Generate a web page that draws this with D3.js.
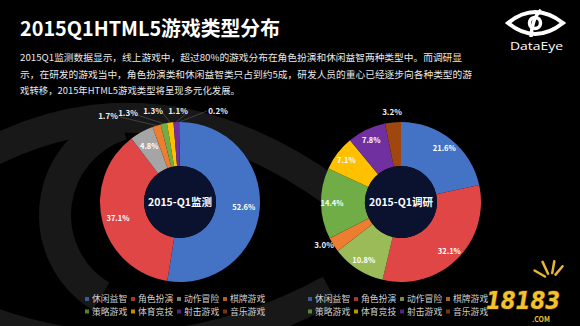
<!DOCTYPE html>
<html lang="zh">
<head>
<meta charset="UTF-8">
<title>2015Q1HTML5游戏类型分布</title>
<script src="https://d3js.org/d3.v7.min.js"></script>
<style>
    body { margin: 0; padding: 0; background: #000; }
    svg { display: block; font-family: "Noto Sans CJK SC", "Noto Sans", sans-serif; }
</style>
</head>
<body>
<div id="chart"></div>
<script>
    // categories (legend order, same for both donuts)
    const categories = ["休闲益智", "角色扮演", "动作冒险", "棋牌游戏", "策略游戏", "体育竞技", "射击游戏", "音乐游戏"];
    // percentages
    const monitorValues = [52.6, 37.1, 4.8, 1.7, 1.3, 1.3, 1.1, 0.2];
    const surveyValues = [21.6, 32.1, 10.8, 3.0, 14.4, 7.1, 7.8, 3.2];
    const chartTitles = ["2015-Q1监测", "2015-Q1调研"];

    const title = "2015Q1HTML5游戏类型分布";
    const bodyLines = [
        "2015Q1监测数据显示，线上游戏中，超过80%的游戏分布在角色扮演和休闲益智两种类型中。而调研显",
        "示，在研发的游戏当中，角色扮演类和休闲益智类只占到约5成，研发人员的重心已经逐步向各种类型的游",
        "戏转移，2015年HTML5游戏类型将呈现多元化发展。"
    ];

    const W = 580, H = 326;
    const leftColors = ["#4472c4", "#e04646", "#a5a5a5", "#ed7d31", "#70ad47", "#ffc000", "#7030a0", "#a0470f"];
    const rightColors = ["#4472c4", "#e04646", "#9bbb59", "#ed7d31", "#70ad47", "#ffc000", "#7030a0", "#a0470f"];

    const svg = d3.select("#chart").append("svg")
        .attr("width", W).attr("height", H);

    svg.append("rect").attr("width", W).attr("height", H).attr("fill", "#000");

    // faint big eye watermark in the background
    const wm = svg.append("g").attr("fill", "none").attr("stroke", "#181818");
    wm.append("path").attr("stroke-width", 30)
        .attr("d", "M-140,250 Q90,20 330,190");
    wm.append("path").attr("stroke-width", 30)
        .attr("d", "M-140,250 Q90,420 330,290");
    wm.append("path").attr("stroke-width", 32)
        .attr("transform", "translate(150,215)")
        .attr("d", d3.arc().innerRadius(95).outerRadius(95)({ startAngle: -2.6, endAngle: -0.3 }));

    // title + description
    svg.append("text").attr("x", 20).attr("y", 36)
        .attr("fill", "#fff").attr("font-size", 20).attr("font-weight", "bold")
        .attr("textLength", 260).attr("lengthAdjust", "spacingAndGlyphs")
        .text(title);

    const lineWidths = [442, 452, 220];
    bodyLines.forEach((t, i) => {
        svg.append("text").attr("x", 20).attr("y", 61 + i * 16.7)
            .attr("fill", "#e8e8e8").attr("font-size", 9.6)
            .attr("textLength", lineWidths[i]).attr("lengthAdjust", "spacingAndGlyphs")
            .text(t);
    });

    // DataEye logo
    const logo = svg.append("g").attr("fill", "none").attr("stroke", "#fff");
    logo.append("path").attr("stroke-width", 4)
        .attr("d", "M508,23 Q535,1 563,23 Q535,45 508,23 Z");
    logo.append("circle").attr("cx", 535).attr("cy", 23).attr("r", 5.5).attr("stroke-width", 3.5);
    logo.append("path").attr("stroke-width", 3.5)
        .attr("d", "M541,10 Q532,18 531,37");
    svg.append("text").attr("x", 510).attr("y", 50)
        .attr("fill", "#fff").attr("font-size", 11).attr("font-family", "Open Sans, sans-serif")
        .attr("textLength", 53).attr("lengthAdjust", "spacingAndGlyphs")
        .text("DataEye");

    const pie = d3.pie().sort(null).value(d => d);
    const outerR = 80, innerR = 36;
    const arc = d3.arc().innerRadius(innerR).outerRadius(outerR);

    function drawDonut(cx, cy, values, colors, centerText, labelR, outside) {
        const g = svg.append("g").attr("transform", `translate(${cx},${cy})`);
        const arcs = pie(values);
        g.selectAll("path.slice").data(arcs).enter().append("path")
            .attr("class", "slice")
            .attr("d", arc)
            .attr("fill", (d, i) => colors[i]);

        g.append("circle").attr("r", innerR).attr("fill", "#0b1230");
        g.append("text").attr("y", 4).attr("text-anchor", "middle")
            .attr("fill", "#fff").attr("font-size", 10.5).attr("font-weight", "bold")
            .text(centerText);

        arcs.forEach((d, i) => {
            const a = (d.startAngle + d.endAngle) / 2;
            const lbl = d.data.toFixed(1) + "%";
            if (outside[i]) {
                const o = outside[i];
                const px = Math.sin(a) * outerR, py = -Math.cos(a) * outerR;
                if (o.line) {
                    g.append("path").attr("fill", "none").attr("stroke", "#6a6a6a").attr("stroke-width", 0.5)
                        .attr("d", `M${px},${py} L${o.lx},${o.ly}`);
                }
                g.append("text").attr("x", o.x).attr("y", o.y).attr("text-anchor", "middle")
                    .attr("fill", "#eee").attr("font-size", 8).attr("font-weight", "bold")
                    .text(lbl);
            } else {
                g.append("text")
                    .attr("x", Math.sin(a) * labelR).attr("y", -Math.cos(a) * labelR + 3)
                    .attr("text-anchor", "middle")
                    .attr("fill", "#fff").attr("font-size", 7.5).attr("font-weight", "bold")
                    .text(lbl);
            }
        });
    }

    // small slices whose labels sit outside the ring (layout only)
    const leftOutside = {
        3: { x: -72, y: -83, line: true, lx: -60, ly: -85 },
        4: { x: -52, y: -86, line: true, lx: -43, ly: -87 },
        5: { x: -27, y: -88, line: true, lx: -18, ly: -90 },
        6: { x: -2, y: -88, line: true, lx: 8, ly: -90 },
        7: { x: 38, y: -88, line: true, lx: 27, ly: -91 }
    };
    const rightOutside = {
        3: { x: -77, y: 46 },
        7: { x: -9, y: -87 }
    };

    drawDonut(180, 202, monitorValues, leftColors, chartTitles[0], 64, leftOutside);
    drawDonut(401, 202, surveyValues, rightColors, chartTitles[1], 69, rightOutside);

    // legends
    function drawLegend(x0, colors) {
        const lg = svg.append("g");
        categories.forEach((c, i) => {
            const col = i % 4, row = Math.floor(i / 4);
            const x = x0 + col * 46, y = 299 + row * 12.5;
            lg.append("rect").attr("x", x - 2).attr("y", y - 2).attr("width", 4).attr("height", 4)
                .attr("fill", colors[i]).attr("opacity", 0.75);
            lg.append("text").attr("x", x + 5).attr("y", y + 3.3)
                .attr("fill", "#cfcfcf").attr("font-size", 8.8)
                .text(c);
        });
    }
    drawLegend(87, leftColors);
    drawLegend(310, rightColors);

    // 18183.com watermark
    const mark = svg.append("g");
    const sun = mark.append("g").attr("stroke", "#e8b53a").attr("stroke-width", 2.5).attr("stroke-linecap", "round");
    [[-60, 12], [-25, 13], [10, 12], [40, 11]].forEach(([deg, len]) => {
        const r = deg * Math.PI / 180;
        sun.append("line")
            .attr("x1", 551 + Math.sin(r) * 7).attr("y1", 280 - Math.cos(r) * 7)
            .attr("x2", 551 + Math.sin(r) * (7 + len)).attr("y2", 280 - Math.cos(r) * (7 + len));
    });
    mark.append("text").attr("x", 486).attr("y", 309)
        .attr("fill", "#f2c12e").attr("stroke", "#3a2400").attr("stroke-width", 1.5)
        .attr("paint-order", "stroke")
        .attr("font-size", 24).attr("font-weight", "bold").attr("font-style", "italic")
        .attr("font-family", "DejaVu Sans, sans-serif")
        .attr("textLength", 74).attr("lengthAdjust", "spacingAndGlyphs")
        .text("18183");
    mark.append("text").attr("x", 532).attr("y", 322)
        .attr("fill", "#f2c12e").attr("font-size", 7).attr("font-weight", "bold")
        .text(".COM");
</script>
</body>
</html>
